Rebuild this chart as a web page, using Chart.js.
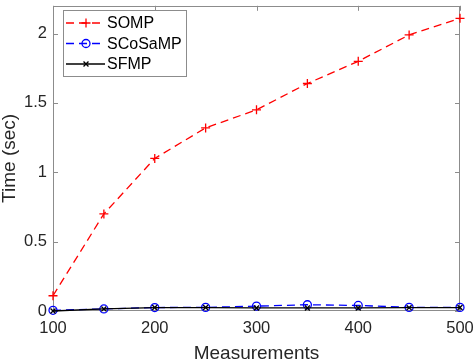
<!DOCTYPE html>
<html>
<head>
<meta charset="utf-8">
<script src="https://cdn.jsdelivr.net/npm/chart.js@4.4.1/dist/chart.umd.min.js"></script>
<style>
  body { margin: 0; background: #fff; }
  canvas { display: block; }
</style>
</head>
<body>
<canvas id="chart" width="474" height="361"></canvas>
<script>
// data
var measurements = [100, 150, 200, 250, 300, 350, 400, 450, 500];
var sompTime = [0.11, 0.70, 1.10, 1.32, 1.45, 1.64, 1.80, 1.99, 2.11];
var scosampTime = [0.005, 0.015, 0.025, 0.026, 0.035, 0.045, 0.040, 0.026, 0.026];
var sfmpTime = [0.0, 0.015, 0.025, 0.025, 0.022, 0.022, 0.022, 0.024, 0.025];
var xTicks = [100, 200, 300, 400, 500];
var yTicks = [0, 0.5, 1, 1.5, 2];

var FONT = "'Liberation Sans', Arial, Helvetica, sans-serif";
var AXIS_GRAY = "#8c8c8c";

function pts(ys) {
  return measurements.map(function (m, i) { return { x: m, y: ys[i] }; });
}

// MATLAB-style box with inward ticks
var boxPlugin = {
  id: "box",
  beforeDatasetsDraw: function (chart) {
    var ctx = chart.ctx, a = chart.chartArea;
    var x = chart.scales.x, y = chart.scales.y;
    ctx.save();
    ctx.strokeStyle = AXIS_GRAY;
    ctx.lineWidth = 1;
    ctx.strokeRect(Math.round(a.left) + 0.5, Math.round(a.top) + 0.5,
      Math.round(a.width) - 1, Math.round(a.height) - 1);
    ctx.beginPath();
    xTicks.forEach(function (v) {
      var px = Math.round(x.getPixelForValue(v)) + 0.5;
      ctx.moveTo(px, a.bottom); ctx.lineTo(px, a.bottom - 5);
      ctx.moveTo(px, a.top); ctx.lineTo(px, a.top + 5);
    });
    yTicks.forEach(function (v) {
      var py = Math.round(y.getPixelForValue(v)) + 0.5;
      ctx.moveTo(a.left, py); ctx.lineTo(a.left + 5, py);
      ctx.moveTo(a.right, py); ctx.lineTo(a.right - 5, py);
    });
    ctx.stroke();
    ctx.restore();
  }
};

// legend drawn inside the axes like MATLAB
var legendPlugin = {
  id: "matlabLegend",
  afterDraw: function (chart) {
    var ctx = chart.ctx;
    ctx.save();
    ctx.fillStyle = "#fff";
    ctx.fillRect(63.5, 10.5, 123, 66);
    ctx.strokeStyle = AXIS_GRAY;
    ctx.lineWidth = 1;
    ctx.strokeRect(63.5, 10.5, 123, 66);
    chart.data.datasets.forEach(function (ds, i) {
      var ry = 23 + i * 20.5;
      ctx.strokeStyle = ds.borderColor;
      ctx.lineWidth = ds.borderWidth;
      ctx.setLineDash(ds.borderDash || []);
      ctx.beginPath();
      ctx.moveTo(66, ry); ctx.lineTo(105, ry);
      ctx.stroke();
      ctx.setLineDash([]);
      ctx.fillStyle = "rgba(0,0,0,0)";
      ctx.strokeStyle = ds.pointBorderColor;
      ctx.lineWidth = ds.pointBorderWidth;
      Chart.helpers.drawPoint(ctx, {
        pointStyle: ds.pointStyle, radius: ds.pointRadius, rotation: 0,
        borderWidth: ds.pointBorderWidth
      }, 86, ry);
      ctx.fillStyle = "#000";
      ctx.font = "16px " + FONT;
      ctx.textBaseline = "middle";
      ctx.fillText(ds.label, 107, ry + 1);
    });
    ctx.restore();
  }
};

var ctx = document.getElementById("chart").getContext("2d");
var chart = new Chart(ctx, {
  type: "line",
  data: {
    datasets: [
      {
        label: "SOMP",
        data: pts(sompTime),
        borderColor: "#ff0000",
        borderWidth: 1.3,
        borderDash: [8, 5],
        pointStyle: "cross",
        pointRadius: 4.5,
        pointBorderColor: "#ff0000",
        pointBorderWidth: 1.3,
        pointBackgroundColor: "rgba(0,0,0,0)",
        order: 3,
        clip: false,
      },
      {
        label: "SCoSaMP",
        data: pts(scosampTime),
        borderColor: "#0000ff",
        borderWidth: 1.3,
        borderDash: [8, 5],
        pointStyle: "circle",
        pointRadius: 4,
        pointBorderColor: "#0000ff",
        pointBorderWidth: 1.3,
        pointBackgroundColor: "rgba(0,0,0,0)",
        order: 2,
        clip: false,
      },
      {
        label: "SFMP",
        data: pts(sfmpTime),
        borderColor: "#000000",
        borderWidth: 1.3,
        pointStyle: "crossRot",
        pointRadius: 3.5,
        pointBorderColor: "#000000",
        pointBorderWidth: 1.3,
        pointBackgroundColor: "rgba(0,0,0,0)",
        order: 1,
        clip: false,
      },
    ],
  },
  options: {
    responsive: false,
    animation: false,
    layout: { padding: { top: 1, right: 14, left: 0, bottom: 0 } },
    plugins: {
      legend: { display: false },
      tooltip: { enabled: false },
    },
    scales: {
      x: {
        type: "linear",
        min: 100,
        max: 500,
        afterBuildTicks: function (s) { s.ticks = xTicks.map(function (v) { return { value: v }; }); },
        afterFit: function (s) { s.height = 50; s.paddingLeft = 0; s.paddingRight = 0; },
        grid: { display: false, drawTicks: false },
        border: { display: false },
        ticks: {
          color: "#262626",
          font: { family: FONT, size: 16.5 },
          padding: 8,
          maxRotation: 0,
          callback: function (v) { return String(v); },
        },
        title: {
          display: true,
          text: "Measurements",
          color: "#262626",
          font: { family: FONT, size: 19, lineHeight: 1 },
          padding: { top: 0, bottom: -2 },
        },
      },
      y: {
        min: 0,
        max: 2.2,
        afterBuildTicks: function (s) { s.ticks = yTicks.map(function (v) { return { value: v }; }); },
        afterFit: function (s) { s.width = 53; s.paddingTop = 0; s.paddingBottom = 0; },
        grid: { display: false, drawTicks: false },
        border: { display: false },
        ticks: {
          color: "#262626",
          font: { family: FONT, size: 16.5 },
          padding: 6,
          callback: function (v) { return String(v); },
        },
        title: {
          display: true,
          text: "Time (sec)",
          color: "#262626",
          font: { family: FONT, size: 19, lineHeight: 1 },
          padding: { top: 0, bottom: 0 },
        },
      },
    },
  },
  plugins: [boxPlugin, legendPlugin],
});
</script>
</body>
</html>
